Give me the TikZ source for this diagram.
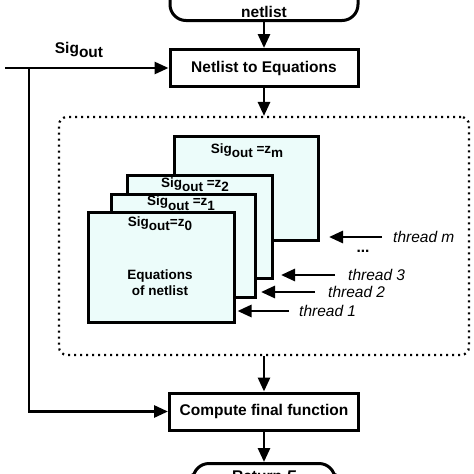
\documentclass[tikz,border=0pt]{standalone}
\usepackage{fontspec}
\setmainfont{Liberation Sans}
\usetikzlibrary{arrows.meta}
\definecolor{cardfill}{RGB}{236,252,250}
\newcommand{\subtxt}[1]{\raisebox{-4.5pt}{#1}}

\begin{document}
\begin{tikzpicture}[x=1pt,y=-1pt,
  box/.style={draw,line width=3pt,minimum width=188pt,minimum height=37pt,font=\fontsize{15.5}{18}\selectfont\bfseries},
  term/.style={box,rounded corners=16pt},
  card/.style={draw,line width=3pt,fill=cardfill,anchor=north west},
  arr/.style={line width=2.8pt,-{Triangle[length=14pt,width=12pt]}},
  lbl/.style={font=\fontsize{15.5}{18}\selectfont\bfseries},
  cardtxt/.style={font=\fontsize{13.5}{16}\selectfont\bfseries,align=center,inner sep=0pt},
  thr/.style={font=\fontsize{15.5}{18}\selectfont\itshape,anchor=west,inner sep=1pt}]
\useasboundingbox (0,0) rectangle (474,474);
% main flow
\node[term,anchor=south,align=center,inner ysep=3pt] (readnet) at (264,22) {\strut\\netlist};
\node[box] (toeq) at (264,68) {Netlist to Equations};
\node[draw,line width=2.2pt,dash pattern=on 2pt off 4pt,rounded corners=8pt,minimum width=410pt,minimum height=238pt] (threads) at (264,236) {};
\node[box,minimum width=189pt] (final) at (264,411.5) {Compute final function};
\node[term,minimum width=142pt,minimum height=26pt,anchor=north] (ret) at (264,462) {Return {\itshape F}};
\draw[arr] (readnet) -- (toeq);
\draw[arr] (toeq) -- (threads);
\draw[arr] (threads) -- (final);
\draw[arr] (final) -- (ret);
% Sig_out feed
\node[lbl] (siglab) at (79,50) {Sig\subtxt{out}};
\coordinate (sigin) at (5,68);
\coordinate (split) at (29,68);
\draw[arr] (sigin) -- (toeq.west);
\draw[arr] (split) |- (final.west);
% stack of netlist copies
\node[card,minimum width=144pt,minimum height=104pt] (cardm) at (173,135) {};
\node[cardtxt] (zm) at (247,150.5) {Sig\subtxt{out} =z\subtxt{m}};
\node[card,minimum width=145pt,minimum height=103pt] (card2) at (126,174) {};
\node[cardtxt] (z2) at (195,184.5) {Sig\subtxt{out} =z\subtxt{2}};
\node[card,minimum width=144pt,minimum height=103pt] (card1) at (110,193) {};
\node[cardtxt] (z1) at (181,203) {Sig\subtxt{out} =z\subtxt{1}};
\node[card,minimum width=146pt,minimum height=110pt] (card0) at (87,211) {};
\node[cardtxt] (z0) at (160,223.5) {Sig\subtxt{out}=z\subtxt{0}};
\node[cardtxt] (eqs) at (160,283) {Equations\\of netlist};
% threads
\node[thr] (tm) at (392,237) {thread m};
\node[lbl] (dots) at (363,251) {...};
\node[thr] (t3) at (347,275) {thread 3};
\node[thr] (t2) at (327,292) {thread 2};
\node[thr] (t1) at (298,311) {thread 1};
\draw[arr,shorten <=10pt,shorten >=9pt] (tm.west) -- (tm.west -| cardm.east);
\draw[arr,shorten <=12pt,shorten >=7pt] (t3.west) -- (t3.west -| card2.east);
\draw[arr,shorten <=12pt,shorten >=4pt] (t2.west) -- (t2.west -| card1.east);
\draw[arr,shorten <=9pt,shorten >=1.5pt] (t1.west) -- (t1.west -| card0.east);
\end{tikzpicture}
\end{document}
